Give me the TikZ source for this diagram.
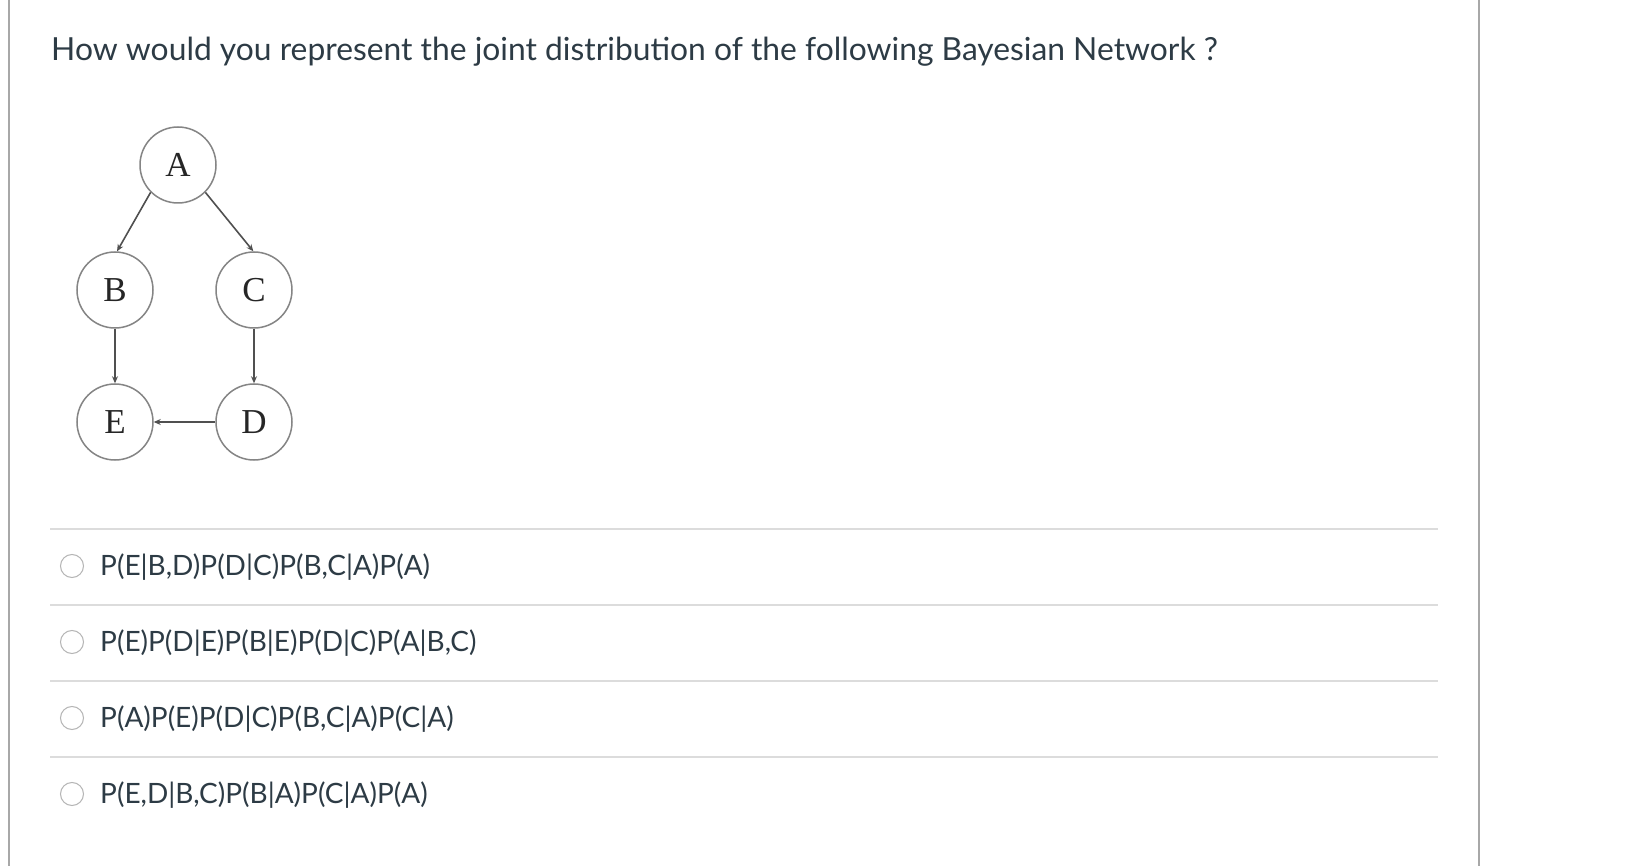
\documentclass[tikz,border=0pt]{standalone}
\usepackage{fontspec}
\setmainfont{Lato}
\newfontfamily\graphfont{Liberation Serif}
\usetikzlibrary{arrows.meta}
\definecolor{txt}{HTML}{2D3B45}
\definecolor{border}{HTML}{A8A8A8}
\definecolor{sep}{HTML}{DCDCDC}
\definecolor{radio}{HTML}{B5B5B5}
\definecolor{nodeline}{HTML}{858585}
\definecolor{edge}{HTML}{505050}
\tikzset{
  bnode/.style={circle, draw=nodeline, line width=1.5pt, minimum size=76pt, inner sep=0pt, text=black!85, font=\graphfont\fontsize{35}{40}\selectfont},
  bedge/.style={draw=edge, line width=1.6pt, -{Stealth[length=7pt,width=6pt]}},
  question/.style={anchor=base west, inner sep=0pt, text=txt, font=\fontsize{31.8}{36}\selectfont},
  option/.style={anchor=base west, inner sep=0pt, text=txt, font=\fontsize{28}{34}\selectfont},
  radiobtn/.style={circle, draw=radio, line width=1pt, fill=white, minimum size=23pt, inner sep=0pt},
  sepline/.style={draw=sep, line width=1.6pt},
  borderline/.style={draw=border, line width=2pt}
}
\begin{document}
\begin{tikzpicture}[x=1pt,y=-1pt]
\useasboundingbox (0,0) rectangle (1650,866);
\fill[white] (0,0) rectangle (1650,866);
% borders
\coordinate (lt) at (9,0); \coordinate (lb) at (9,866);
\coordinate (rt) at (1479,0); \coordinate (rb) at (1479,866);
\draw[borderline] (lt) -- (lb);
\draw[borderline] (rt) -- (rb);
% title
\node[question] (title) at (51,61) {How would you represent the joint distribution of the following Bayesian Network ?};
% graph
\node[bnode] (A) at (178,165) {A};
\node[bnode] (B) at (115,290) {B};
\node[bnode] (C) at (254,290) {C};
\node[bnode] (E) at (115,422) {E};
\node[bnode] (D) at (254,422) {D};
\draw[bedge] (A.225) -- (B.87);
\draw[bedge] (A.-45) -- (C.91);
\draw[bedge] (B.south) -- (E.north);
\draw[bedge] (C.south) -- (D.north);
\draw[bedge] (D.west) -- (E.east);
% separators
\foreach \y/\n in {529/s1,605/s2,681/s3,757/s4}{
  \coordinate (\n a) at (50,\y); \coordinate (\n b) at (1438,\y);
  \draw[sepline] (\n a) -- (\n b);
}
% options
\node[radiobtn] (r1) at (72,566) {};
\node[radiobtn] (r2) at (72,642) {};
\node[radiobtn] (r3) at (72,718) {};
\node[radiobtn] (r4) at (72,794) {};
\node[option] (o1) at (100,575) {P(E|B,D)P(D|C)P(B,C|A)P(A)};
\node[option] (o2) at (100,651) {P(E)P(D|E)P(B|E)P(D|C)P(A|B,C)};
\node[option] (o3) at (100,727) {P(A)P(E)P(D|C)P(B,C|A)P(C|A)};
\node[option] (o4) at (100,803) {P(E,D|B,C)P(B|A)P(C|A)P(A)};
\end{tikzpicture}
\end{document}
